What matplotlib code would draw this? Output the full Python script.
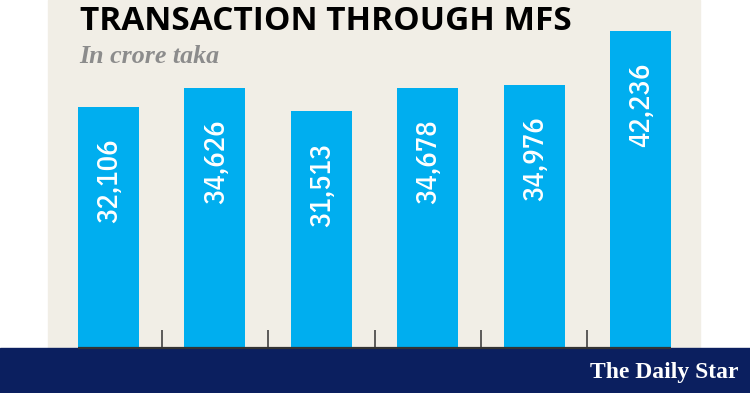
import matplotlib
matplotlib.use("Agg")
import matplotlib.pyplot as plt
from matplotlib.patches import Rectangle

# Data (crore taka)
periods = ["P1", "P2", "P3", "P4", "P5", "P6"]
values = [32106, 34626, 31513, 34678, 34976, 42236]
value_labels = ["32,106", "34,626", "31,513", "34,678", "34,976", "42,236"]

title = "TRANSACTION THROUGH MFS"
subtitle = "In crore taka"
brand = "The Daily Star"

# Colours
bar_color = "#00AEEF"
panel_color = "#F1EEE6"
navy = "#0B1F5F"
rule_color = "#333333"

W, H = 750, 393
fig = plt.figure(figsize=(W / 100, H / 100), dpi=100, facecolor="white")

def px(x, y):
    # pixel (from top-left) to figure fraction
    return x / W, 1 - y / H

# beige panel and navy footer band
fig.patches.append(Rectangle((48 / W, 45 / H), (700 - 48) / W, 1 - 45 / H,
                             transform=fig.transFigure, color=panel_color, zorder=-2))
fig.patches.append(Rectangle((0, 0), 1, 45 / H, transform=fig.transFigure,
                             color=navy, zorder=-2))

ax = fig.add_axes([48 / W, 45 / H, (700 - 48) / W, 1 - 45 / H], zorder=1)
ax.set_facecolor("none")

x = list(range(len(values)))
bar_w = 0.573
ax.bar(x, values, width=bar_w, color=bar_color, zorder=2)

ax.set_xlim(-0.5686, 5.559)
ax.set_ylim(0, 46366)

# baseline and separator ticks
ax.plot([-bar_w / 2, x[-1] + bar_w / 2], [0, 0], color=rule_color, lw=1.6,
        solid_capstyle="butt", clip_on=False, zorder=3)
ax.set_xticks([i + 0.5 for i in x[:-1]])
ax.set_xticklabels([])
ax.tick_params(axis="x", direction="in", length=13, width=1.1, color=rule_color)
ax.set_yticks([])
for s in ax.spines.values():
    s.set_visible(False)

cond = ["Open Sans", "DejaVu Sans"]
plex = ["IBM Plex Sans Condensed", "Open Sans", "DejaVu Sans"]

for xi, v, lab in zip(x, values, value_labels):
    ax.annotate(lab, (xi, v), xytext=(1, -22.5), textcoords="offset points",
                rotation=90, ha="center", va="top", color="white",
                fontsize=20.5, family=plex, fontstretch="condensed",
                fontweight="medium", zorder=4)

tx, ty = px(80, 30)
fig.text(tx, ty, title, family=cond, fontstretch="condensed", fontweight="bold",
         fontsize=24, color="black", va="baseline", ha="left")
sx, sy = px(79, 63)
fig.text(sx, sy, subtitle, family="Liberation Serif", fontstyle="italic",
         fontweight="bold", fontsize=18.7, color="#8C8C8C", va="baseline", ha="left")
bx, by = px(738, 378)
fig.text(bx, by, brand, family="Liberation Serif", fontweight="bold",
         fontsize=17, color="white", va="baseline", ha="right")

fig.savefig("out.png", dpi=100, facecolor=fig.get_facecolor())
